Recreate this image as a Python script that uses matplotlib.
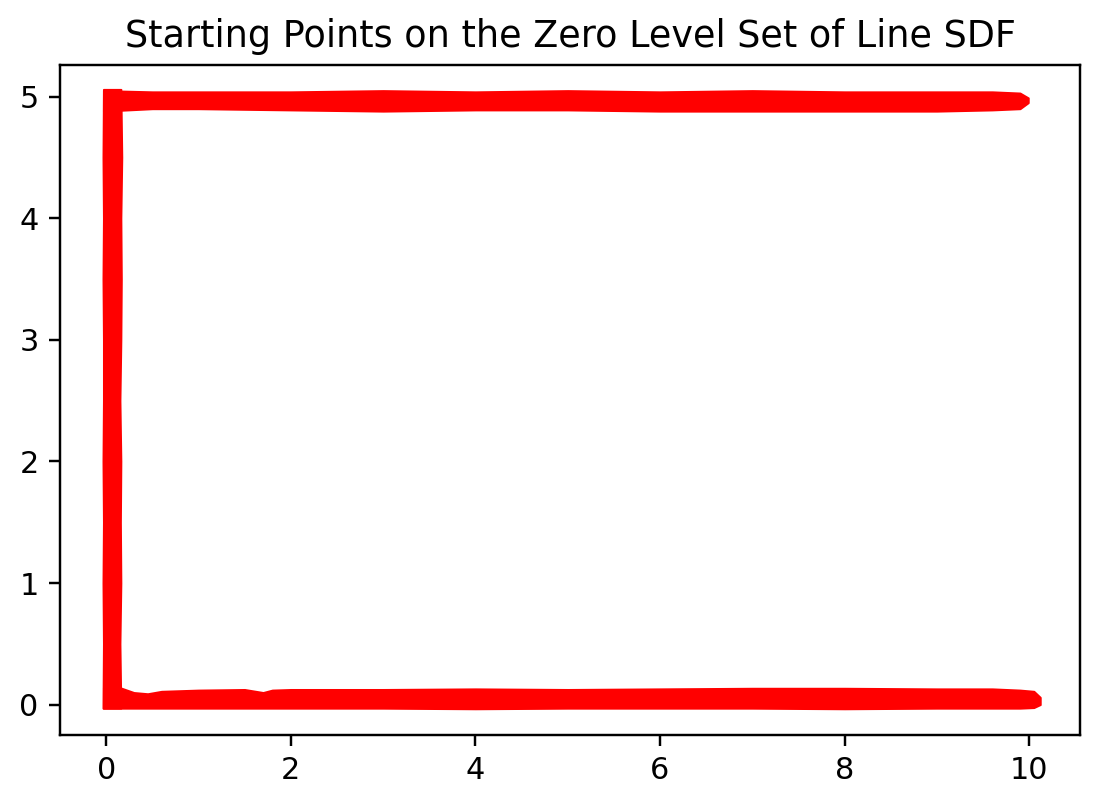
import matplotlib
matplotlib.use("Agg")
import matplotlib.pyplot as plt
import numpy as np

# Band outlines of the scattered starting points (data units)
# bottom segment: x positions, lower and upper visible edge in y
bottom_x = [-0.03, 0.15, 0.3, 0.45, 0.6, 1.0, 1.5, 1.7, 1.8, 2.0, 3.0, 4.0, 5.0, 6.0, 7.0, 8.0, 9.0, 9.6, 9.9, 10.05, 10.12]
bottom_lo = [-0.03, -0.03, -0.03, -0.03, -0.03, -0.03, -0.03, -0.03, -0.03, -0.03, -0.03, -0.035, -0.03, -0.03, -0.03, -0.035, -0.03, -0.03, -0.03, -0.025, 0.0]
bottom_hi = [0.14, 0.14, 0.10, 0.09, 0.11, 0.12, 0.125, 0.10, 0.12, 0.125, 0.125, 0.13, 0.125, 0.13, 0.135, 0.135, 0.13, 0.13, 0.12, 0.11, 0.06]

# left segment: y positions, left and right visible edge in x
left_y = [-0.03, 0.5, 1.0, 1.5, 2.0, 2.5, 3.0, 3.5, 4.0, 4.5, 5.06]
left_lo = [-0.035, -0.03, -0.035, -0.03, -0.035, -0.03, -0.03, -0.035, -0.03, -0.035, -0.03]
left_hi = [0.16, 0.15, 0.16, 0.155, 0.16, 0.15, 0.16, 0.165, 0.16, 0.17, 0.16]

# top segment: x positions, lower and upper visible edge in y
top_x = [-0.03, 0.5, 1.0, 2.0, 3.0, 4.0, 5.0, 6.0, 7.0, 8.0, 9.0, 9.6, 9.9, 9.99]
top_lo = [4.88, 4.90, 4.90, 4.89, 4.88, 4.89, 4.89, 4.88, 4.88, 4.88, 4.88, 4.89, 4.90, 4.95]
top_hi = [5.05, 5.04, 5.04, 5.04, 5.05, 5.04, 5.05, 5.04, 5.05, 5.04, 5.04, 5.04, 5.03, 4.99]

x_ticks = [0, 2, 4, 6, 8, 10]
y_ticks = [0, 1, 2, 3, 4, 5]
title = "Starting Points on the Zero Level Set of Line SDF"

dpi = 219
fig = plt.figure(figsize=(1099 / dpi, 807 / dpi), dpi=dpi)
ax = fig.add_axes([60 / 1099, 72 / 807, 1020 / 1099, 670 / 807])

kw = dict(color="red", edgecolor="red", linewidth=0.6)
ax.fill_between(bottom_x, bottom_lo, bottom_hi, **kw)
ax.fill_betweenx(left_y, left_lo, left_hi, **kw)
ax.fill_between(top_x, top_lo, top_hi, **kw)

ax.set_xlim(-0.5, 10.55)
ax.set_ylim(-0.25, 5.26)
ax.set_xticks(x_ticks)
ax.set_yticks(y_ticks)
ax.tick_params(labelsize=10)
ax.set_title(title, fontsize=12)

fig.savefig("out.png", dpi=dpi)
